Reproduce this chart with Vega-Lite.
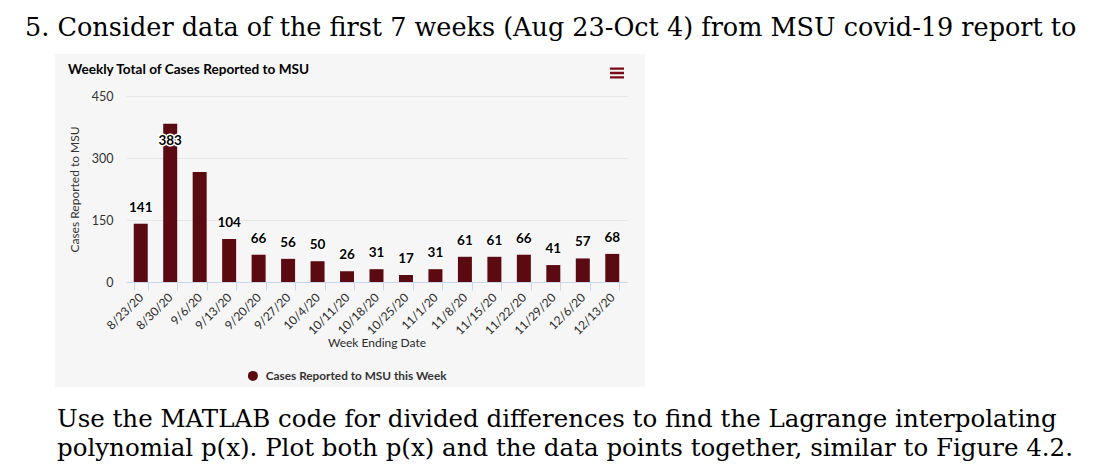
{
  "$schema": "https://vega.github.io/schema/vega-lite/v6.json",
  "background": "white",
  "padding": {"left": 25, "top": 15, "right": 0, "bottom": 0},
  "config": {"view": {"stroke": null}, "font": "Lato"},
  "title": {
    "text": "5. Consider data of the first 7 weeks (Aug 23-Oct 4) from MSU covid-19 report to",
    "anchor": "start",
    "font": "DejaVu Serif",
    "fontSize": 25.5,
    "fontWeight": "normal",
    "color": "#000000",
    "offset": 13
  },
  "spacing": 20,
  "vconcat": [
    {
      "spacing": 24,
      "hconcat": [
        {"width": 1, "height": 1, "data": {"values": []}, "mark": "point", "encoding": {}},
        {
          "width": 590,
          "height": 333,
          "view": {"fill": "#f6f6f6", "stroke": null},
          "title": {
            "text": "Weekly Total of Cases Reported to MSU",
            "anchor": "start",
            "frame": "group",
            "offset": -23,
            "dx": 13,
            "font": "Lato",
            "fontSize": 13.6,
            "fontWeight": "bold",
            "color": "#000000"
          },
          "data": {
            "values": [
              {"week": "8/23/20", "cases": 141},
              {"week": "8/30/20", "cases": 383},
              {"week": "9/6/20", "cases": 266},
              {"week": "9/13/20", "cases": 104},
              {"week": "9/20/20", "cases": 66},
              {"week": "9/27/20", "cases": 56},
              {"week": "10/4/20", "cases": 50},
              {"week": "10/11/20", "cases": 26},
              {"week": "10/18/20", "cases": 31},
              {"week": "10/25/20", "cases": 17},
              {"week": "11/1/20", "cases": 31},
              {"week": "11/8/20", "cases": 61},
              {"week": "11/15/20", "cases": 61},
              {"week": "11/22/20", "cases": 66},
              {"week": "11/29/20", "cases": 41},
              {"week": "12/6/20", "cases": 57},
              {"week": "12/13/20", "cases": 68}
            ]
          },
          "encoding": {
            "x": {
              "field": "week",
              "type": "ordinal",
              "sort": null,
              "scale": {"range": [71, 572], "paddingInner": 0.525, "paddingOuter": 0.2625},
              "axis": {
                "title": "Week Ending Date",
                "orient": "bottom",
                "offset": -105,
                "labelAngle": -45,
                "labelAlign": "right",
                "labelBaseline": "middle",
                "labelFont": "Lato",
                "labelFontSize": 12,
                "labelColor": "#2a2a2a",
                "labelPadding": 5,
                "tickBand": "extent",
                "tickSize": 8,
                "tickColor": "#ccd6eb",
                "domainColor": "#ccd6eb",
                "grid": false,
                "titleFont": "Lato",
                "titleFontSize": 12,
                "titleFontWeight": "normal",
                "titleColor": "#2a2a2a",
                "titleY": 60,
                "titleBaseline": "middle"
              }
            },
            "y": {
              "field": "cases",
              "type": "quantitative",
              "scale": {"domain": [0, 450], "range": [228, 42], "nice": false},
              "axis": {
                "values": [0, 150, 300, 450],
                "title": "Cases Reported to MSU",
                "offset": -71,
                "domain": false,
                "ticks": false,
                "tickSize": 0,
                "labelPadding": 13,
                "labelFont": "Lato",
                "labelFontSize": 12.5,
                "labelColor": "#333333",
                "gridColor": "#e6e6e6",
                "titleFont": "Lato",
                "titleFontSize": 12,
                "titleFontWeight": "normal",
                "titleColor": "#333333",
                "titlePadding": 10
              }
            }
          },
          "layer": [
            {
              "mark": {"type": "bar"},
              "encoding": {
                "fill": {
                  "datum": "Cases Reported to MSU this Week",
                  "scale": {"range": ["#5c0a12"]},
                  "legend": {
                    "orient": "none",
                    "legendX": 222,
                    "legendY": 316,
                    "title": null,
                    "symbolType": "circle",
                    "symbolSize": 100,
                    "symbolStrokeWidth": 0,
                    "labelFont": "Lato",
                    "labelFontSize": 11.8,
                    "labelFontWeight": "bold",
                    "labelColor": "#333333",
                    "labelOffset": 7,
                    "labelLimit": 0
                  }
                }
              }
            },
            {
              "data": {"values": []},
              "mark": {"type": "point", "filled": true, "color": "#7a0a18", "opacity": 1},
              "encoding": {
                "shape": {
                  "datum": "menu",
                  "scale": {"range": ["M-1,-0.79H1V-0.46H-1Z M-1,-0.165H1V0.165H-1Z M-1,0.46H1V0.79H-1Z"]},
                  "legend": {
                    "orient": "none",
                    "legendX": 585,
                    "legendY": 12,
                    "title": null,
                    "symbolSize": 196,
                    "symbolFillColor": "#7a0a18",
                    "symbolStrokeWidth": 0,
                    "symbolOpacity": 1,
                    "labelExpr": "''",
                    "labelOffset": 0
                  }
                }
              }
            },
            {
              "transform": [{"filter": "datum.cases < 350 && datum.week != '9/6/20'"}],
              "mark": {"type": "text", "dy": -12, "baseline": "alphabetic", "font": "Lato", "fontSize": 13.5, "fontWeight": "bold", "fill": "#ffffff", "stroke": "#ffffff", "strokeWidth": 2, "strokeJoin": "round"},
              "encoding": {"y": {"field": "cases", "type": "quantitative"}, "text": {"field": "cases", "type": "quantitative"}}
            },
            {
              "transform": [{"filter": "datum.cases < 350 && datum.week != '9/6/20'"}],
              "mark": {"type": "text", "dy": -12, "baseline": "alphabetic", "font": "Lato", "fontSize": 13.5, "fontWeight": "bold", "fill": "#000000"},
              "encoding": {"y": {"field": "cases", "type": "quantitative"}, "text": {"field": "cases", "type": "quantitative"}}
            },
            {
              "transform": [{"filter": "datum.cases >= 350"}],
              "mark": {"type": "text", "dy": 21, "baseline": "alphabetic", "font": "Lato", "fontSize": 13.5, "fontWeight": "bold", "fill": "#ffffff", "stroke": "#ffffff", "strokeWidth": 3, "strokeJoin": "round"},
              "encoding": {"y": {"field": "cases", "type": "quantitative"}, "text": {"field": "cases", "type": "quantitative"}}
            },
            {
              "transform": [{"filter": "datum.cases >= 350"}],
              "mark": {"type": "text", "dy": 21, "baseline": "alphabetic", "font": "Lato", "fontSize": 13.5, "fontWeight": "bold", "fill": "#000000"},
              "encoding": {"y": {"field": "cases", "type": "quantitative"}, "text": {"field": "cases", "type": "quantitative"}}
            }
          ]
        }
      ]
    },
    {
      "width": 1,
      "height": 1,
      "data": {"values": []},
      "mark": "point",
      "encoding": {},
      "title": {
        "text": [
          "Use the MATLAB code for divided differences to find the Lagrange interpolating",
          "polynomial p(x). Plot both p(x) and the data points together, similar to Figure 4.2."
        ],
        "anchor": "start",
        "frame": "group",
        "dx": 32,
        "offset": 0,
        "font": "DejaVu Serif",
        "fontSize": 24.5,
        "fontWeight": "normal",
        "color": "#000000",
        "lineHeight": 28.5
      }
    }
  ]
}
